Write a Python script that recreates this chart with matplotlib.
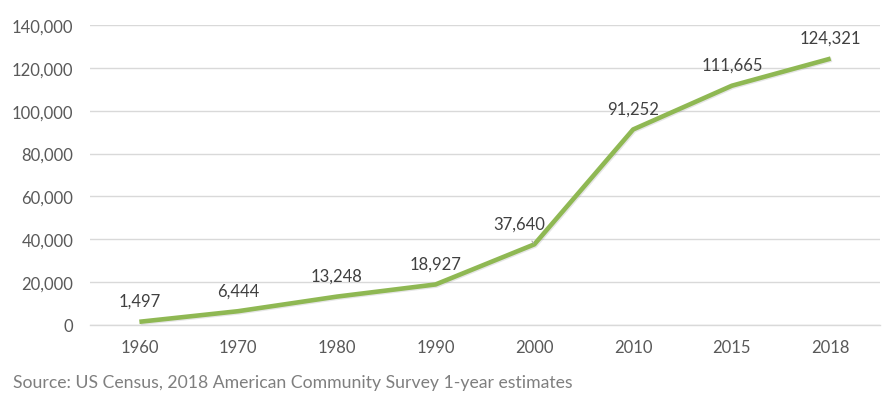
import matplotlib
matplotlib.use("Agg")
import matplotlib.pyplot as plt
import matplotlib.patheffects as pe
from matplotlib.ticker import FuncFormatter

years = ["1960", "1970", "1980", "1990", "2000", "2010", "2015", "2018"]
values = [1497, 6444, 13248, 18927, 37640, 91252, 111665, 124321]
yticks = [0, 20000, 40000, 60000, 80000, 100000, 120000, 140000]
source = "Source: US Census, 2018 American Community Survey 1-year estimates"

plt.rcParams['font.family'] = ['Lato', 'DejaVu Sans']

fig = plt.figure(figsize=(8.86, 4.02), dpi=100)
ax = fig.add_axes([90/886, 76/402, 790/886, 300/402])

x = list(range(len(years)))
ax.plot(x, values, color='#8FB853', lw=3.3, solid_capstyle='butt', solid_joinstyle='round',
        path_effects=[pe.SimpleLineShadow(offset=(0.8, -0.8), alpha=0.15, shadow_color='#555555'),
                      pe.Normal()], zorder=3)

ax.set_xlim(-0.5, len(years) - 0.5)
ax.set_ylim(0, 140000)
ax.set_yticks(yticks)
ax.yaxis.set_major_formatter(FuncFormatter(lambda v, p: f"{int(v):,}"))
ax.set_xticks(x)
ax.set_xticklabels(years)

ax.grid(axis='y', color='#d9d9d9', lw=1)
ax.set_axisbelow(True)
for s in ['top', 'right', 'left']:
    ax.spines[s].set_visible(False)
ax.spines['bottom'].set_color('#d9d9d9')
ax.spines['bottom'].set_linewidth(1)
ax.tick_params(axis='both', length=0, labelsize=12, colors='#595959')
ax.tick_params(axis='y', pad=12)
ax.tick_params(axis='x', pad=10)

for i, v in enumerate(values):
    if years[i] == "2000":
        ax.annotate(f"{v:,}", (i, v), xytext=(-11, 15), textcoords='offset points',
                    ha='center', va='center', fontsize=12, color='#404040',
                    arrowprops=dict(arrowstyle='-', color='#a6a6a6', lw=0.8,
                                    shrinkA=6, shrinkB=1))
    else:
        ax.annotate(f"{v:,}", (i, v), xytext=(0, 15), textcoords='offset points',
                    ha='center', va='center', fontsize=12, color='#404040')

fig.text(13/886, 1 - 383/402, source, ha='left', va='center', fontsize=12.7, color='#7f7f7f')

fig.savefig("out.png", dpi=100)
